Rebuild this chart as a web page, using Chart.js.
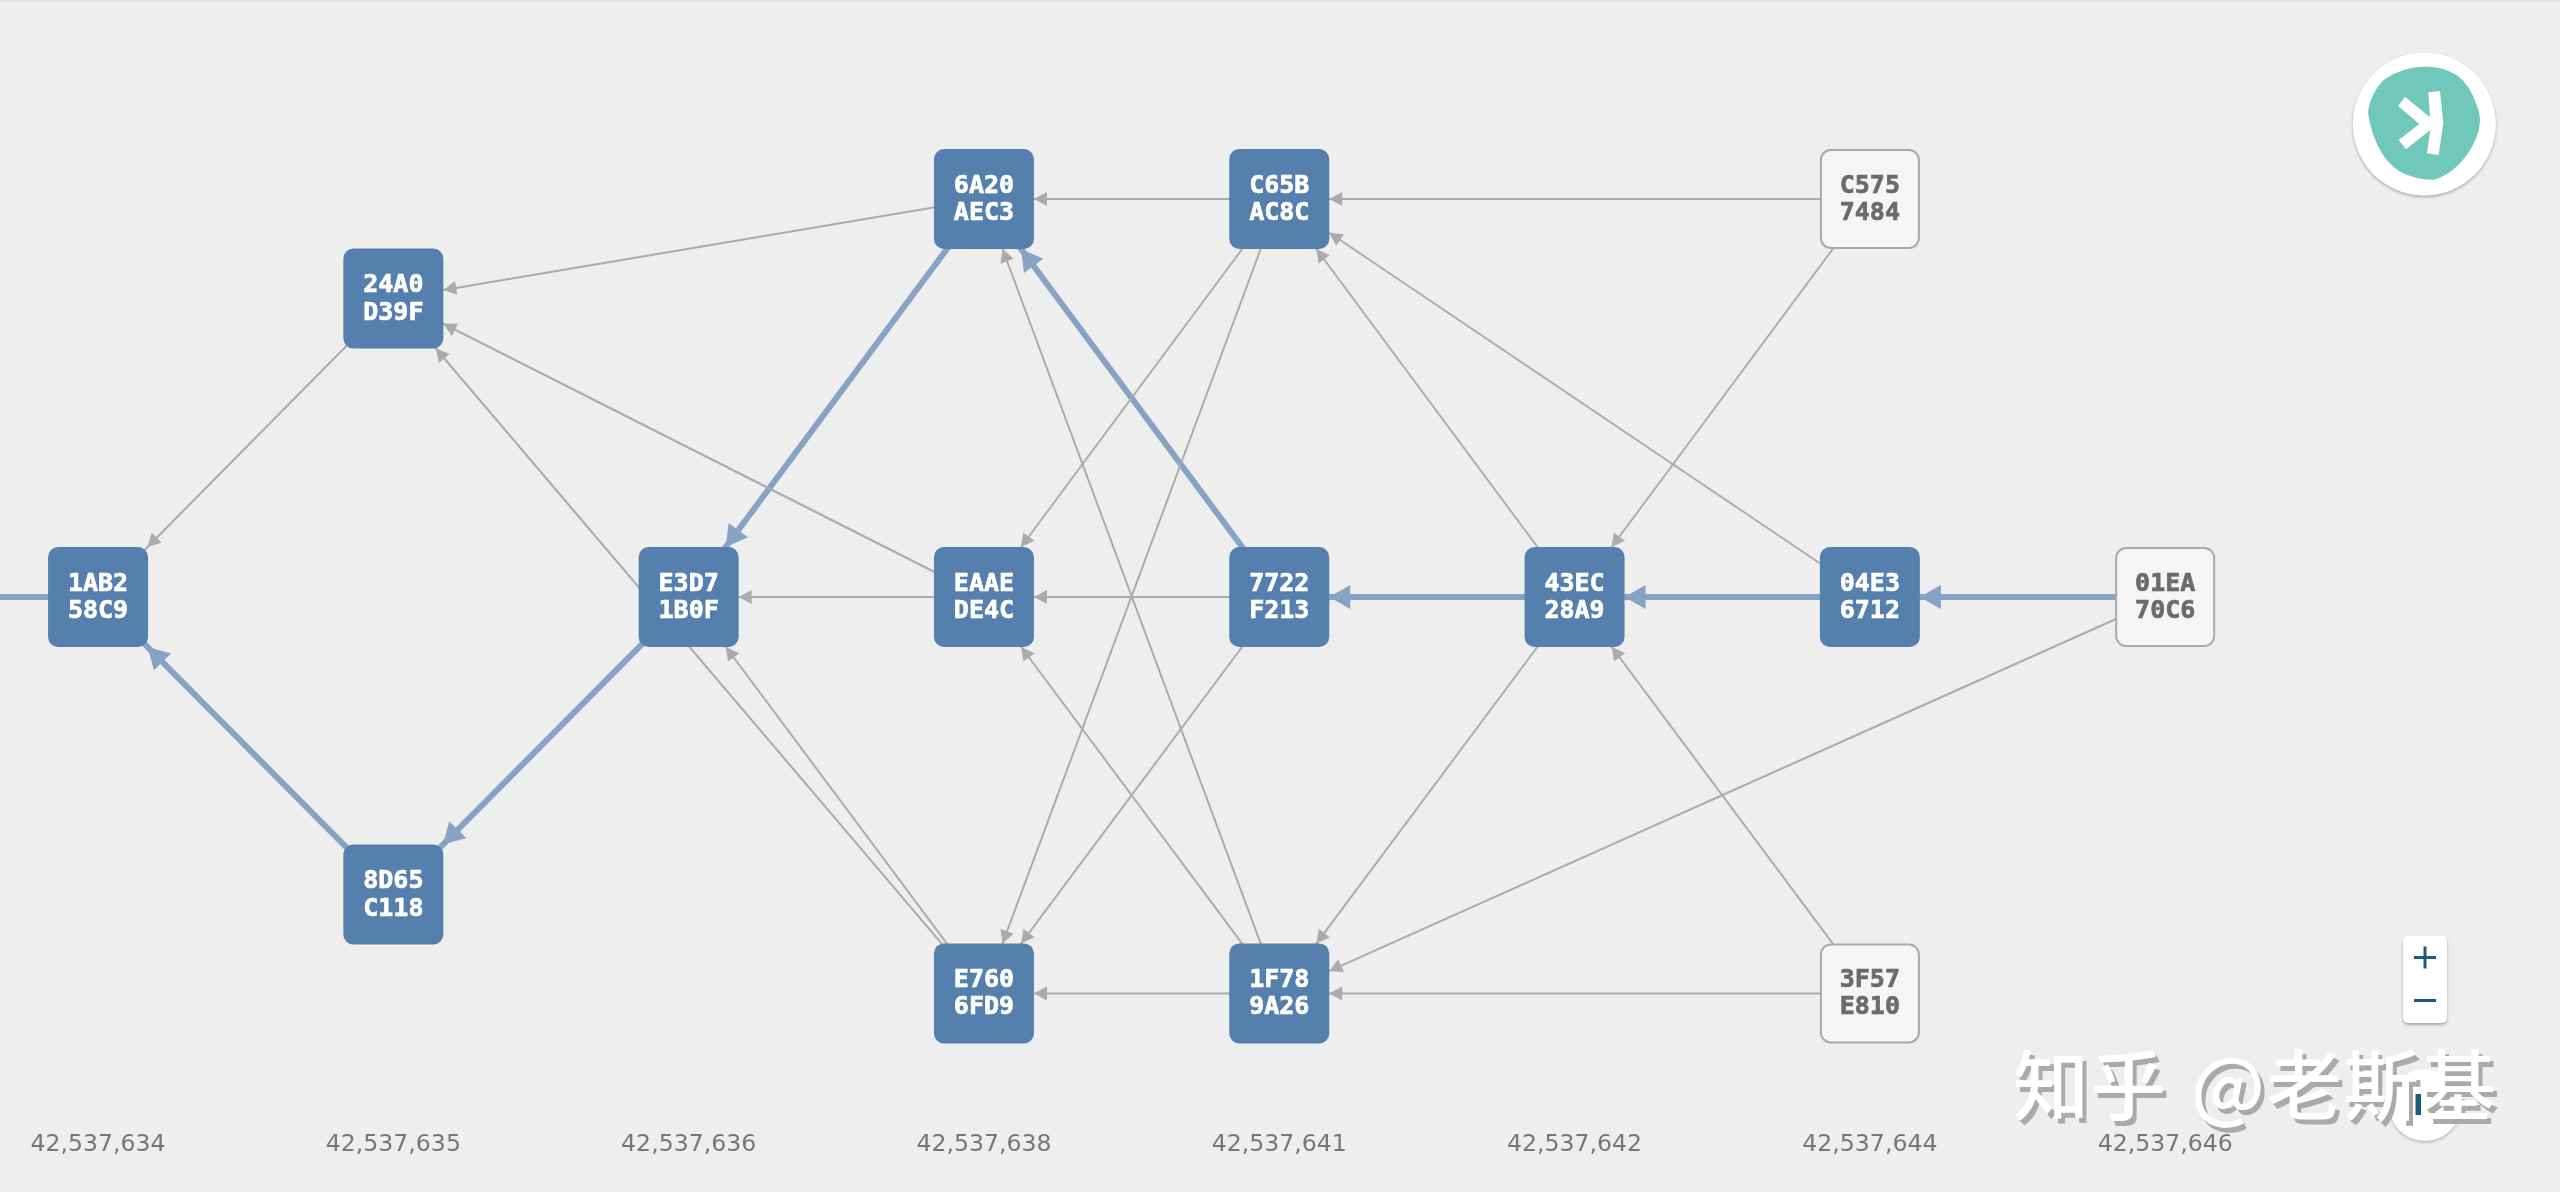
<!DOCTYPE html>
<html>
<head>
<meta charset="utf-8">
<title>blockDAG</title>
<script src="https://cdn.jsdelivr.net/npm/chart.js@4"></script>
<style>
  html, body { margin: 0; padding: 0; background: #eeeeee; }
  #wrap { position: relative; width: 2560px; height: 1192px; overflow: hidden; }
  #dag { position: absolute; left: 0; top: 0; }
  #topLine { position: absolute; left: 0; top: 0; width: 2560px; height: 2px; background: #e0e0e0; }
  .overlay { position: absolute; left: 0; top: 0; }
  #zoomBox { position: absolute; left: 2403px; top: 936px; width: 44px; height: 87px; background: #fff;
    border-radius: 5px; box-shadow: 0 2px 3px rgba(0,0,0,.3); }
  #restore { position: absolute; left: 2389px; top: 1069px; width: 72px; height: 72px; background: #fff;
    border-radius: 50%; box-shadow: 0 2px 3px rgba(0,0,0,.2); }
  #mark { position: absolute; left: 2013px; top: 1031px; white-space: nowrap; color: #fff;
    font: 500 76px "Noto Sans CJK SC"; line-height: 100px; letter-spacing: 1px; word-spacing: 6px;
    text-shadow: 4px 5px 0 #aaaaaa; }
</style>
</head>
<body>
<div id="wrap">
  <canvas id="dag" width="2560" height="1192"></canvas>
  <div id="topLine"></div>

  <svg class="overlay" style="left:2280px;top:30px" width="279" height="190" viewBox="0 0 837 570">
    <defs><filter id="sh" x="-20%" y="-20%" width="140%" height="140%"><feDropShadow dx="0" dy="5" stdDeviation="4" flood-color="#000" flood-opacity=".3"/></filter></defs>
    <circle cx="433" cy="282" r="214" fill="#fff" filter="url(#sh)"/>
    <path fill="#6fc8b9" d="M440 110 Q490 110 530 135 Q570 165 590 225 Q610 270 590 320 Q570 370 535 405 Q500 440 460 449 Q410 450 360 425 Q320 400 295 350 Q270 300 264 245 Q270 195 310 150 Q370 108 440 110 Z"/>
    <path fill="#fff" d="M445 187 L480 183 L490 280 L476 375 L441 370 L451 300 L378 358 L356 330 L418 282 L354 228 L375 200 L450 262 Z"/>
  </svg>

  <div id="zoomBox">
    <svg width="44" height="87" viewBox="0 0 44 87">
      <path d="M11 21.500 H33 M22 10.500 V32.500 M11 64.500 H33" stroke="#1d5a80" stroke-width="3" fill="none"/>
    </svg>
  </div>
  <div id="restore">
    <svg width="72" height="72" viewBox="0 0 72 72">
      <rect x="26.500" y="25" width="5.500" height="21" fill="#1d5a80"/>
      <path d="M36 36 L46 26 V46 Z" fill="#1d5a80"/>
    </svg>
  </div>
  <div id="mark">知乎 @老斯基</div>
</div>

<script>
const blockLabels = ['42,537,634', '42,537,635', '42,537,636', '42,537,638', '42,537,641', '42,537,642', '42,537,644', '42,537,646'];

const nodeIds  = ['1AB2\n58C9', '24A0\nD39F', '8D65\nC118', 'E3D7\n1B0F', '6A20\nAEC3', 'EAAE\nDE4C', 'E760\n6FD9', 'C65B\nAC8C', '7722\nF213', '1F78\n9A26', '43EC\n28A9', 'C575\n7484', '04E3\n6712', '3F57\nE810', '01EA\n70C6'];
const nodeCols = [0, 1, 1, 2, 3, 3, 3, 4, 4, 4, 5, 6, 6, 6, 7];
const nodeRows = [0, 1.5, -1.495, 0, 2, 0, -1.992, 2, 0, -1.992, 0, 2, 0, -1.992, 0];
const tipNodes = ['C575', '3F57', '01EA'];

// parent edges, newest block first. arrow sits on the "to" end
const greyFrom = ['24A0', '6A20', 'EAAE', 'E760', 'C65B', 'C575', 'C575', '04E3', '43EC', 'C65B', 'C65B', '7722', '7722', 'EAAE', 'E760', '1F78', '1F78', '1F78', '43EC', '3F57', '3F57', '01EA'];
const greyTo   = ['1AB2', '24A0', '24A0', '24A0', '6A20', 'C65B', '43EC', 'C65B', 'C65B', 'EAAE', 'E760', 'EAAE', 'E760', 'E3D7', 'E3D7', 'EAAE', '6A20', 'E760', '1F78', '1F78', '43EC', '1F78'];
const blueFrom = ['01EA', '04E3', '43EC', '7722', '6A20', 'E3D7', '8D65'];
const blueTo   = ['04E3', '43EC', '7722', '6A20', 'E3D7', '8D65', '1AB2'];
// selected chain keeps going past the left edge
const offLeftCol = -1;

const NODE_HALF = 50;

function nodeIndex(name) {
    return nodeIds.findIndex(id => id.startsWith(name));
}

function edgeDataset(from, to, blue) {
    const a = nodeIndex(from);
    const b = nodeIndex(to);
    return {
        type: 'line',
        data: [{ x: nodeCols[a], y: nodeRows[a] }, { x: nodeCols[b], y: nodeRows[b] }],
        borderColor: blue ? '#86a2c5' : '#ababab',
        borderWidth: blue ? 6 : 2,
        pointRadius: 0,
        arrow: blue ? { len: 21, half: 12, color: '#86a2c5' } : { len: 13, half: 7, color: '#ababab' }
    };
}

const datasets = [];
greyFrom.forEach((from, i) => datasets.push(edgeDataset(from, greyTo[i], false)));
blueFrom.forEach((from, i) => datasets.push(edgeDataset(from, blueTo[i], true)));
datasets.push({
    type: 'line',
    data: [{ x: nodeCols[0], y: nodeRows[0] }, { x: offLeftCol, y: nodeRows[0] }],
    borderColor: '#86a2c5',
    borderWidth: 6,
    pointRadius: 0
});
datasets.push({
    label: 'blocks',
    data: nodeCols.map((c, i) => ({ x: c, y: nodeRows[i] })),
    pointRadius: 0,
    showLine: false
});

const dagPlugin = {
    id: 'dagPlugin',
    afterDatasetsDraw(chart) {
        const ctx = chart.ctx;
        // arrow heads, tip on the box edge
        chart.data.datasets.forEach((ds, i) => {
            if (!ds.arrow) return;
            const pts = chart.getDatasetMeta(i).data;
            const dx = pts[0].x - pts[1].x;
            const dy = pts[0].y - pts[1].y;
            const t = Math.min(dx ? NODE_HALF / Math.abs(dx) : 9, dy ? NODE_HALF / Math.abs(dy) : 9);
            const tipX = pts[1].x + dx * t;
            const tipY = pts[1].y + dy * t;
            const l = Math.hypot(dx, dy);
            const ux = dx / l, uy = dy / l;
            ctx.fillStyle = ds.arrow.color;
            ctx.beginPath();
            ctx.moveTo(tipX, tipY);
            ctx.lineTo(tipX + ux * ds.arrow.len - uy * ds.arrow.half, tipY + uy * ds.arrow.len + ux * ds.arrow.half);
            ctx.lineTo(tipX + ux * ds.arrow.len + uy * ds.arrow.half, tipY + uy * ds.arrow.len - ux * ds.arrow.half);
            ctx.closePath();
            ctx.fill();
        });

        // blocks
        const nodes = chart.getDatasetMeta(chart.data.datasets.length - 1).data;
        nodes.forEach((p, i) => {
            const tip = tipNodes.includes(nodeIds[i].slice(0, 4));
            const inset = tip ? 1 : 0;
            ctx.beginPath();
            ctx.roundRect(p.x - NODE_HALF + inset, p.y - NODE_HALF + inset, NODE_HALF * 2 - inset * 2, NODE_HALF * 2 - inset * 2, 10);
            ctx.fillStyle = tip ? '#f5f5f5' : '#5580ad';
            ctx.fill();
            if (tip) {
                ctx.lineWidth = 2;
                ctx.strokeStyle = '#a9a9a9';
                ctx.stroke();
            }
            const color = tip ? '#6b6b6b' : '#ffffff';
            ctx.fillStyle = color;
            ctx.strokeStyle = color;
            ctx.lineWidth = 0.7;
            ctx.font = 'bold 25px "DejaVu Sans Mono"';
            ctx.textAlign = 'center';
            ctx.textBaseline = 'middle';
            const lines = nodeIds[i].split('\n');
            ctx.fillText(lines[0], p.x, p.y - 13);
            ctx.strokeText(lines[0], p.x, p.y - 13);
            ctx.fillText(lines[1], p.x, p.y + 14.5);
            ctx.strokeText(lines[1], p.x, p.y + 14.5);
        });
    }
};

new Chart(document.getElementById('dag'), {
    type: 'scatter',
    data: { datasets },
    plugins: [dagPlugin],
    options: {
        responsive: false,
        animation: false,
        events: [],
        layout: { padding: 0 },
        plugins: { legend: { display: false }, tooltip: { enabled: false } },
        scales: {
            x: {
                type: 'linear',
                min: -0.332,
                max: 8.337,
                grid: { display: false },
                border: { display: false },
                afterFit(scale) { scale.height = 72; },
                afterBuildTicks(scale) { scale.ticks = blockLabels.map((_, i) => ({ value: i })); },
                ticks: {
                    autoSkip: false,
                    maxRotation: 0,
                    padding: 3,
                    color: '#777777',
                    font: { family: 'DejaVu Sans', size: 23.6 },
                    callback: value => blockLabels[value]
                }
            },
            y: {
                display: false,
                min: -2.628,
                max: 3
            }
        }
    }
});
</script>
</body>
</html>
